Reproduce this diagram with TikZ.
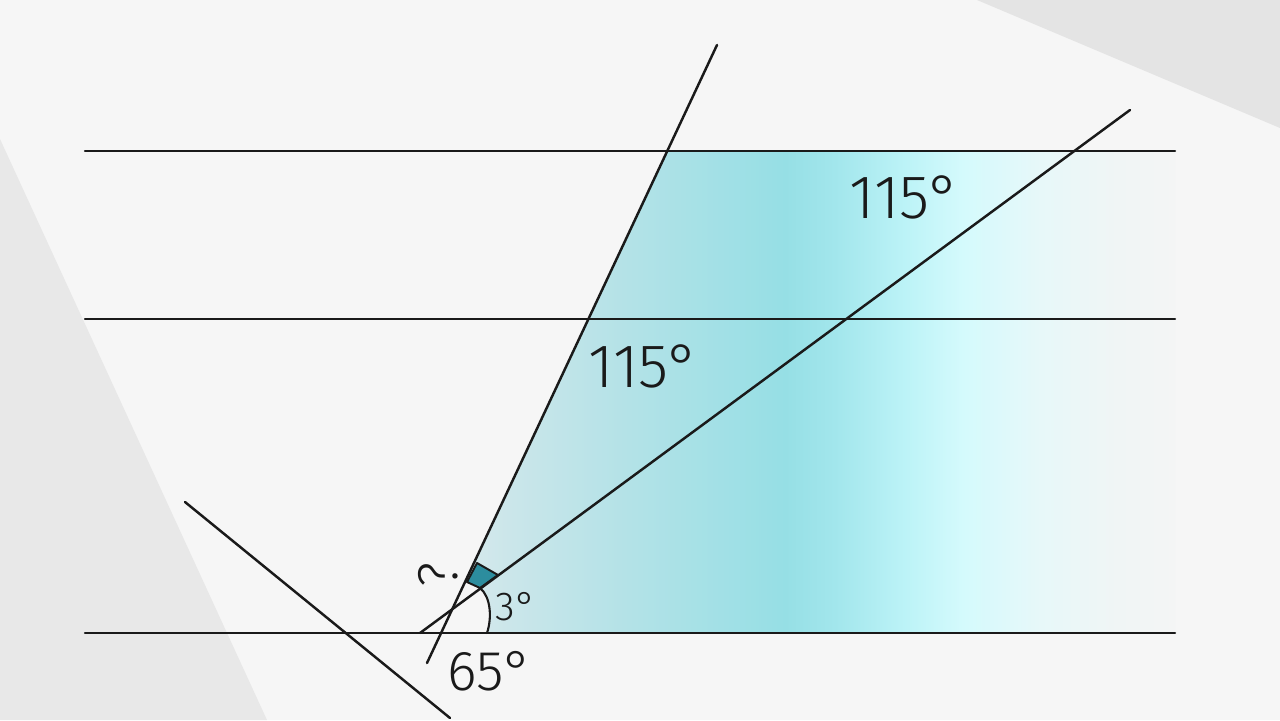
\documentclass[tikz,border=0pt]{standalone}
\usepackage{fontspec}
\setmainfont{Fira Sans}[UprightFont={* Light}]

\definecolor{bgray}{HTML}{F6F6F6}
\definecolor{sidegray}{HTML}{E8E8E8}
\definecolor{cornergray}{HTML}{E4E4E4}
\definecolor{boxteal}{HTML}{2C8D9E}
\definecolor{inkdark}{HTML}{1A1A1A}
\definecolor{cyA}{HTML}{D6E9EC}
\definecolor{cyB}{HTML}{CBE6EA}
\definecolor{cyC}{HTML}{B3E2E7}
\definecolor{cyD}{HTML}{96DFE5}
\definecolor{cyE}{HTML}{A2E6EC}
\definecolor{cyF}{HTML}{BCF3F7}
\definecolor{cyG}{HTML}{D4FAFC}
\definecolor{cyH}{HTML}{E7F8F9}
\definecolor{cyI}{HTML}{F0F5F5}
\definecolor{cyJ}{HTML}{F4F5F5}

\pgfdeclarehorizontalshading{bandcyan}{100bp}{color(0bp)=(cyA); color(25bp)=(cyA);
  color(28bp)=(cyB); color(36.5bp)=(cyC); color(47.5bp)=(cyD); color(51bp)=(cyE);
  color(56bp)=(cyF); color(60bp)=(cyG); color(65.5bp)=(cyH); color(71bp)=(cyI);
  color(75bp)=(cyJ); color(100bp)=(cyJ)}

\begin{document}
\begin{tikzpicture}[x=0.02cm,y=-0.02cm,
    line/.style={line width=1.4pt,inkdark,line cap=round},
    deg/.style={inner sep=0pt,text=inkdark}]
  \useasboundingbox (0,0) rectangle (1280,720);
  % background
  \fill[bgray] (0,0) rectangle (1280,720);
  \fill[sidegray] (0,139) -- (267,720) -- (0,720) -- cycle;
  \fill[cornergray] (977,0) -- (1280,0) -- (1280,128) -- cycle;

  % end points
  \coordinate (h1l) at (85,151);  \coordinate (h1r) at (1175,151);
  \coordinate (h2l) at (85,319);  \coordinate (h2r) at (1175,319);
  \coordinate (h3l) at (85,633);  \coordinate (h3r) at (1175,633);
  \coordinate (s1) at (427,663);  \coordinate (s2) at (717,45);
  \coordinate (t1) at (420,633);  \coordinate (t2) at (1130,110);
  \coordinate (c1) at (185,502);  \coordinate (c2) at (450,718);

  % shaded band
  \shade[shading=bandcyan] (667,151) -- (h1r) -- (h3r) -- (487,633)
    .. controls (492,618) and (491,597) .. (480,588) -- (466,581) -- cycle;

  % small box between the two rays
  \filldraw[fill=boxteal,draw=inkdark,line width=1.1pt,line join=round]
    (477,563) -- (498,575) -- (480,588) -- (467,582) -- cycle;

  \draw[line] (h1l) -- (h1r);
  \draw[line] (h2l) -- (h2r);
  \draw[line] (h3l) -- (h3r);
  \draw[line] (s1) -- (s2);
  \draw[line] (t1) -- (t2);
  \draw[line] (c1) -- (c2);
  \draw[line,line width=1.2pt] (480,588) .. controls (491,597) and (492,618) .. (487,633);

  % angle labels
  \node[deg,font=\fontsize{35}{35}\selectfont] (ang-top) at (905,197) {115°};
  \node[deg,font=\fontsize{35}{35}\selectfont] (ang-mid) at (644,366) {115°};
  \node[deg,font=\fontsize{23}{23}\selectfont] (ang-small) at (516,607) {3°};
  \node[deg,font=\fontsize{32}{32}\selectfont] (ang-low) at (490,671) {65°};
  \node[deg,font=\fontsize{32}{32}\selectfont,rotate=90] (ang-q) at (438,575) {?};
\end{tikzpicture}
\end{document}
